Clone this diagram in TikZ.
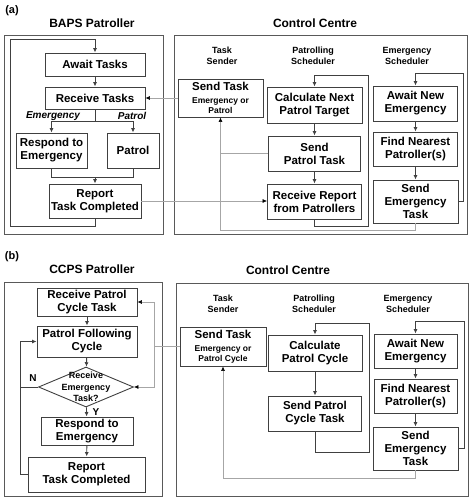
\documentclass[tikz,border=0pt]{standalone}
\usepackage{fontspec}
\setmainfont{Liberation Sans}
\usetikzlibrary{arrows.meta, shapes.geometric, calc}

\newcommand{\minitxt}[1]{{\fontsize{8.5}{10}\selectfont #1}}

\tikzset{
	box/.style={draw=black!75, line width=0.9pt, align=center, inner sep=1pt,
		font=\bfseries\fontsize{11.5}{13}\selectfont},
	decision/.style={draw=black!75, line width=0.9pt, diamond, inner sep=0pt},
	panel/.style={draw=black!65, line width=0.9pt},
	flow/.style={draw=black!75, line width=0.9pt, -{Latex[length=4.5pt,width=4pt]}},
	link/.style={draw=black!35, line width=0.6pt},
	linkarrow/.style={link, -{Latex[length=4.5pt,width=4pt,color=black]}},
	head/.style={font=\bfseries\fontsize{12}{14}\selectfont},
	sub/.style={align=center, font=\bfseries\fontsize{9}{11}\selectfont},
	tag/.style={font=\bfseries\itshape\fontsize{10}{12}\selectfont}
}

\begin{document}
\begin{tikzpicture}[x=1pt,y=-1pt]
		\useasboundingbox (0,0) rectangle (474,504);
		
		%---------------------------------------------------------------- (a)
		\node(lbla) [head, font=\bfseries\fontsize{11}{13}\selectfont] at (12,11) {(a)};
		\node(bapshead) [head] at (92,23) {BAPS Patroller};
		\node(ccahead) [head] at (315,23) {Control Centre};
		\draw [panel] (4,35) rectangle (163,234);
		\draw [panel] (174,35) rectangle (467,234);
		
		\node(sendera) [sub] at (222,55.5) {Task\\Sender};
		\node(patschd) [sub] at (313,55.5) {Patrolling\\Scheduler};
		\node(emgschd) [sub] at (407,55.5) {Emergency\\Scheduler};
		
		%--- patroller
		\node(await) [box, minimum width=100pt, minimum height=23pt] at (95,64.5) {Await Tasks};
		\node(recv) [box, minimum width=100pt, minimum height=22pt] at (95,98) {Receive Tasks};
		\node(respond) [box, minimum width=71pt, minimum height=35pt] at (51.5,150.5) {Respond to\\Emergency};
		\node(patrol) [box, minimum width=52pt, minimum height=35pt] at (133,150.5) {Patrol};
		\node(report) [box, minimum width=92pt, minimum height=34pt] at (95,201) {Report\\Task Completed};
		
		\node(emgtag) [tag] at (53,116) {Emergency};
		\node(pattag) [tag] at (132,116) {Patrol};
		
		\draw [flow] (report.south) -- ++(0,8) -| (10,39) -| (await.north);
		\draw [flow] (await) -- (recv);
		\draw [draw=black!75, line width=0.9pt] (recv.south) -- ++(0,12) coordinate (fork);
		\draw [flow] (fork) -| (respond.north);
		\draw [flow] (fork) -| (patrol.north);
		\draw [draw=black!75, line width=0.9pt] (respond.south) -- ++(0,9) -| (patrol.south);
		\draw [flow] (report.north |- 0,177) -- (report.north);
		
		%--- control centre
		\node(send) [box, minimum width=85pt, minimum height=38pt] at (220.5,98)
		{Send Task\\\minitxt{Emergency or}\\[-3pt]\minitxt{Patrol}};
		\node(calc) [box, minimum width=95pt, minimum height=36pt] at (314.5,105) {Calculate Next\\Patrol Target};
		\node(sendpatrol) [box, minimum width=92pt, minimum height=35pt] at (314.5,153.5) {Send\\Patrol Task};
		\node(recvreport) [box, minimum width=94pt, minimum height=35pt] at (314.5,201.5) {Receive Report\\from Patrollers};
		\node(awaitnew) [box, minimum width=84pt, minimum height=35pt] at (415.5,103.5) {Await New\\Emergency};
		\node(findnear) [box, minimum width=84pt, minimum height=34pt] at (415.5,149) {Find Nearest\\Patroller(s)};
		\node(sendemerg) [box, minimum width=85pt, minimum height=43pt] at (415.5,201.5) {Send\\Emergency\\Task};
		
		\draw [flow] (recvreport.south) -- ++(0,7) -| (368,75) -| (calc.north);
		\draw [flow] (calc) -- (sendpatrol);
		\draw [flow] (sendpatrol) -- (recvreport);
		\draw [flow] (sendemerg.east) -- ++(5,0) |- (415.5,73) -- (awaitnew.north);
		\draw [flow] (awaitnew) -- (findnear);
		\draw [flow] (findnear) -- (sendemerg);
		
		\draw [link] (sendpatrol.west) -- (sendpatrol.west -| send.south);
		\draw [linkarrow] (sendemerg.south) -- ++(0,7) -| (send.south);
		\draw [linkarrow] (send.west) -- (send.west -| recv.east);
		\draw [linkarrow] (report.east) -- (report.east -| recvreport.west);
		
		%---------------------------------------------------------------- (b)
		\node(lblb) [head, font=\bfseries\fontsize{11}{13}\selectfont] at (12,257) {(b)};
		\node(ccpshead) [head] at (92,269) {CCPS Patroller};
		\node(ccbhead) [head] at (288,270) {Control Centre};
		\draw [panel] (4,282) rectangle (162,496);
		\draw [panel] (176,283) rectangle (468,496);
		
		\node(senderb) [sub] at (223,304) {Task\\Sender};
		\node(patschdb) [sub] at (314,304) {Patrolling\\Scheduler};
		\node(emgschdb) [sub] at (408,304) {Emergency\\Scheduler};
		
		%--- patroller
		\node(recvcycle) [box, minimum width=100pt, minimum height=28pt] at (87,302) {Receive Patrol\\Cycle Task};
		\node(follow) [box, minimum width=100pt, minimum height=31pt] at (87,341.5) {Patrol Following\\Cycle};
		\node(ask) [decision, minimum width=95pt, minimum height=40pt] at (86,387) {};
		\node(asktext) [sub, font=\bfseries\fontsize{9}{11.5}\selectfont] at (ask) {Receive\\Emergency\\Task?};
		\node(respondb) [box, minimum width=92pt, minimum height=28pt] at (87,431) {Respond to\\Emergency};
		\node(reportb) [box, minimum width=117pt, minimum height=35pt] at (86.5,474.5) {Report\\Task Completed};
		
		\node(ntag) [head, font=\bfseries\fontsize{10}{12}\selectfont] at (33,378) {N};
		\node(ytag) [head, font=\bfseries\fontsize{10}{12}\selectfont] at (96,412) {Y};
		
		\draw [flow] (recvcycle) -- (follow);
		\draw [flow] (follow) -- (ask);
		\draw [flow] (ask) -- (respondb);
		\draw [flow] (respondb) -- (reportb);
		\draw [flow] (reportb.west) -- ++(-7,0) |- (follow.west);
		\draw [draw=black!75, line width=0.9pt] (ask.west) -- (ask.west -| 21,0);
		
		%--- control centre
		\node(sendb) [box, minimum width=86pt, minimum height=39pt] at (223,346.5)
		{Send Task\\\minitxt{Emergency or}\\[-3pt]\minitxt{Patrol Cycle}};
		\node(calcb) [box, minimum width=94pt, minimum height=36pt] at (315,353) {Calculate\\Patrol Cycle};
		\node(sendcycle) [box, minimum width=93pt, minimum height=35pt] at (315,413.5) {Send Patrol\\Cycle Task};
		\node(awaitb) [box, minimum width=83pt, minimum height=34pt] at (415.5,351) {Await New\\Emergency};
		\node(findb) [box, minimum width=83pt, minimum height=34pt] at (415.5,396) {Find Nearest\\Patroller(s)};
		\node(sendemergb) [box, minimum width=85pt, minimum height=43pt] at (415.5,448.5) {Send\\Emergency\\Task};
		
		\draw [flow] (sendcycle.south) -- ++(0,21) -| (369,323) -| (calcb.north);
		\draw [flow] (calcb) -- (sendcycle);
		\draw [flow] (sendemergb.east) -- ++(6,0) |- (415.5,321) -- (awaitb.north);
		\draw [flow] (awaitb) -- (findb);
		\draw [flow] (findb) -- (sendemergb);
		
		\coordinate (split) at (154,346.5);
		\draw [link] (sendb.west) -- (split);
		\draw [linkarrow] (split) |- (recvcycle.east);
		\draw [linkarrow] (split) |- (ask.east);
		\draw [linkarrow] (sendemergb.south) -- ++(0,8) -| (sendb.south);
		
	\end{tikzpicture}
\end{document}
